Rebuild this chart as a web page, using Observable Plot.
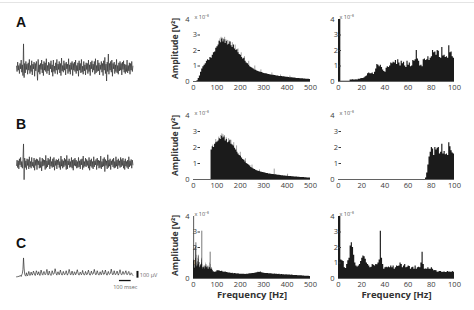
<!DOCTYPE html>
<html><head><meta charset="utf-8">
<script src="https://cdn.jsdelivr.net/npm/d3@7"></script>
<script src="https://cdn.jsdelivr.net/npm/@observablehq/plot@0.6"></script>
<style>
body{margin:0;background:#fff;}
#fig{position:relative;width:474px;height:310px;overflow:hidden;background:#fff;}
#fig .topline{position:absolute;left:0;top:2px;width:474px;height:1px;background:#e4e4e4;}
.panel-label{position:absolute;left:16px;font:bold 14px 'Liberation Sans',Arial,sans-serif;color:#111;line-height:14px;}
.plot{position:absolute;}
.plot svg{overflow:visible;background:transparent;}
</style></head><body>
<div id="fig"><div class="topline"></div></div>
<script>
// ---------- data ----------
const panelLetters = ["A", "B", "C"];
const sampleMs = 5;
const traceA = [20,-60,80,-40,30,-90,60,-20,110,-70,40,-120,350,-150,60,-80,90,-30,50,-100,
 70,-40,120,-90,30,-60,100,-110,50,-20,80,-130,60,-50,90,-40,-190,120,-70,40,
 -100,60,-30,110,-80,50,-120,90,-40,70,-60,130,-90,30,-50,80,-110,60,-20,100,
 -70,40,-130,110,-60,20,-90,70,-40,120,-100,50,-30,90,-80,60,-120,140,-50,30,
 -70,100,-40,60,-110,80,-20,50,-90,130,-60,40,-100,70,-30,90,-120,60,-40,80,
 -60,110,-90,30,-50,70,-130,100,-40,60,-80,120,-70,20,-100,90,-50,40,-110,70,
 -30,60,-90,110,-60,40,-120,80,-20,100,-70,50,-40,90,-100,130,-80,30,-60,110,
 -50,70,-110,40,-30,90,-70,60,-120,100,-40,150,-90,50,-200,80,-60,200,-100,60,
 -40,90,-70,110,-130,60,-20,80,-90,40,-60,120,-80,30,-100,70,-50,90,-40,60,
 -110,80,-30,100,-70,50,-90,40,-60,110,-80,30,-50,70,-100,60,-40,90,-60,20];
const traceB = [-30,50,-60,40,-80,70,-20,90,-50,30,-70,60,290,-240,80,-60,40,-90,70,-30,
 60,-80,100,-50,30,-70,90,-40,20,-60,80,-100,50,-30,70,-90,60,-20,40,-70,
 90,-60,30,-110,80,-40,60,-30,50,-90,120,-70,40,-50,80,-20,60,-80,100,-40,
 30,-60,70,-50,90,-100,40,-30,60,-80,50,-20,70,-60,30,-90,110,-40,60,-70,
 40,-50,80,-30,60,-90,120,-80,40,-20,70,-60,30,-50,90,-70,50,-100,60,-30,
 80,-40,50,-70,30,-60,90,-50,40,-80,60,-20,70,-90,110,-60,30,-40,80,-50,
 60,-30,40,-70,90,-100,50,-40,70,-60,30,-80,100,-50,40,-20,60,-90,80,-30,
 50,-70,40,-60,110,-80,30,-50,70,-40,90,-120,60,-30,40,-80,130,-60,50,-40,
 70,-90,40,-20,60,-50,80,-70,30,-60,100,-40,50,-80,70,-30,40,-60,90,-50,
 60,-30,80,-70,40,-90,70,-40,30,-60,50,-80,100,-50,40,-30,60,-70,50,-20];
const traceC = [10,15,8,20,12,25,18,30,15,40,60,120,290,140,50,30,20,70,40,25,
 50,90,60,30,45,80,55,35,60,95,70,40,30,65,100,75,40,55,85,50,
 30,60,110,80,45,35,70,90,60,40,50,85,120,70,35,55,95,65,40,30,
 60,100,70,45,55,80,130,90,50,35,65,85,55,40,70,110,75,45,35,60,
 90,65,40,50,75,100,60,35,55,80,120,85,45,40,65,95,60,35,50,85,
 70,40,55,90,115,75,45,35,60,80,55,40,65,105,70,45,35,55,90,65,
 40,50,80,110,70,40,35,60,95,65,45,55,85,120,80,45,40,65,100,70,
 45,35,60,85,55,40,70,105,75,45,50,80,110,70,40,35,65,90,60,45,
 55,85,125,80,45,40,70,100,65,40,50,75,95,60,35,55,85,115,75,45,
 40,60,90,65,45,55,80,100,60,40,50,75,90,55,35,45,70,60,40,30];
const scaleBarMs = 100;
const scaleBarUv = 100;
const scaleBarLabels = ["100 msec", "100 \u03bcV"];

const fullTicks = [0, 100, 200, 300, 400, 500];
const zoomTicks = [0, 20, 40, 60, 80, 100];
const ampTicksOuter = [0, 4];
const ampTicksInner = [1, 2, 3];
const ampExponent = "x 10\u207b\u2078";
const yTitle = "Amplitude [V\u00b2]";
const xTitle = "Frequency [Hz]";

// full-range spectra (0-500 Hz, 5 Hz bins), amplitude in 1e-8 V^2
const fullStep = 5;
const aFullStart = 0;
const aFull = [0,0,0,0.05,0.2,0.35,0.6,0.8,0.95,1.05,
 1.15,1.3,1.4,1.35,1.55,1.5,1.7,1.85,1.9,2.15,
 2.25,2.35,2.6,2.5,2.75,2.55,2.7,2.45,2.6,2.35,
 2.4,2.55,2.3,2.2,2.35,2.1,2.0,2.05,1.85,1.75,
 1.7,1.55,1.45,1.5,1.3,1.2,1.15,1.05,0.95,0.9,
 0.85,0.8,0.75,0.72,0.68,0.65,0.62,0.6,0.58,0.55,
 0.52,0.5,0.5,0.46,0.45,0.43,0.42,0.4,0.4,0.38,
 0.37,0.36,0.35,0.33,0.33,0.32,0.3,0.3,0.29,0.28,
 0.27,0.26,0.25,0.25,0.24,0.23,0.22,0.21,0.2,0.2,
 0.19,0.18,0.18,0.17,0.16,0.16,0.15,0.14,0.14,0.13];
const bFullStart = 75;
const bFull = [1.85,2.05,2.0,2.2,2.3,2.35,2.4,2.55,2.5,2.7,
 2.6,2.65,2.4,2.5,2.3,2.35,2.45,2.2,2.15,2.1,
 1.95,1.85,1.7,1.6,1.5,1.45,1.35,1.25,1.2,1.1,
 1.0,0.95,0.9,0.85,0.75,0.7,0.65,0.62,0.58,0.55,
 0.52,0.5,0.47,0.45,0.43,0.42,0.4,0.38,0.37,0.35,
 0.34,0.33,0.32,0.31,0.3,0.29,0.28,0.27,0.26,0.25,
 0.24,0.23,0.22,0.22,0.21,0.2,0.19,0.19,0.18,0.17,
 0.17,0.16,0.15,0.15,0.14,0.14,0.13,0.13,0.12,0.12,
 0.11,0.11,0.1,0.1,0.1];
const cFullHighStart = 100;
const cFullHigh = [0.5,0.5,0.48,0.45,0.47,0.42,0.4,0.42,0.38,0.37,
 0.36,0.35,0.33,0.34,0.3,0.32,0.3,0.29,0.3,0.28,
 0.28,0.27,0.28,0.27,0.26,0.28,0.27,0.29,0.3,0.31,
 0.32,0.33,0.34,0.36,0.37,0.4,0.38,0.42,0.37,0.36,
 0.34,0.33,0.32,0.33,0.31,0.3,0.3,0.29,0.28,0.29,
 0.27,0.27,0.26,0.27,0.25,0.26,0.25,0.24,0.23,0.24,
 0.23,0.22,0.22,0.21,0.22,0.2,0.2,0.19,0.19,0.18,
 0.18,0.17,0.17,0.16,0.16,0.15,0.15,0.14,0.14,0.13];

// peak lines on the full-range spectra
const aFullPeakF = [108,113,118,123,127,133,138,146,152,158,166,178,190,204,218,236,262,288,335,372,412];
const aFullPeakV = [2.6,2.75,2.85,2.8,2.75,2.85,2.7,2.65,2.6,2.55,2.5,2.35,2.1,1.85,1.6,1.3,1.0,0.75,0.55,0.42,0.35];
const bFullPeakF = [82,95,108,116,121,126,132,140,150,160,172,184,200,222,250,282,345,402];
const bFullPeakV = [2.15,2.5,2.65,2.75,2.85,2.8,2.75,2.6,2.55,2.45,2.3,2.1,1.7,1.3,0.9,0.6,0.65,0.33];
const cFullPeakF = [1,11,21,36,72];
const cFullPeakV = [4.0,2.3,1.5,3.05,1.7];

// zoomed spectra (0-100 Hz, 1 Hz bins)
const zoomStep = 1;
const aZoom = [4.0,4.0,0.02,0.02,0.02,0.02,0.02,0.02,0.02,0.02,
 0.1,0.1,0.12,0.1,0.1,0.12,0.1,0.15,0.15,0.18,
 0.2,0.2,0.25,0.3,0.35,0.5,0.55,0.5,0.5,0.55,
 0.45,0.6,0.8,1.1,1.05,0.95,1.05,0.9,0.75,0.65,
 0.6,0.85,0.95,0.9,1.0,1.2,1.15,1.25,1.2,1.35,
 1.1,1.4,1.2,1.0,1.3,1.15,1.25,1.0,0.9,1.3,
 1.05,1.2,0.95,1.0,1.35,1.3,1.4,2.0,1.45,1.3,
 1.0,1.05,0.95,1.4,1.45,1.35,1.4,1.6,1.35,1.5,
 1.6,2.0,1.85,1.9,1.7,2.0,1.95,1.55,1.5,2.2,
 1.65,1.7,1.55,1.6,1.5,2.3,1.85,1.9,1.6,1.5];
const bZoomStart = 75;
const bZoom = [0.1,0.4,0.9,1.4,1.7,2.0,1.9,1.5,2.0,1.85,1.95,2.0,1.6,1.7,2.2,1.6,1.75,1.55,1.6,1.5,2.3,2.05,1.8,1.65,1.6];
const cZoom = [4.0,4.0,1.2,1.15,1.1,0.7,0.65,0.9,1.15,1.3,
 2.1,2.3,2.0,1.5,1.0,0.8,0.75,0.8,0.9,1.1,
 1.3,1.45,1.4,1.25,1.0,0.9,0.8,0.7,0.72,0.9,
 0.85,0.8,0.9,0.88,1.0,1.2,3.05,1.3,0.9,0.6,
 0.7,0.72,0.7,0.75,0.7,0.8,0.7,0.8,0.6,0.7,
 0.8,0.78,0.8,1.0,0.9,0.7,0.8,0.9,0.7,0.72,
 0.8,0.78,0.6,0.7,0.72,0.6,0.8,0.6,0.7,0.72,
 0.7,1.0,1.7,0.9,0.6,0.62,0.6,0.7,0.6,0.6,
 0.7,0.6,0.5,0.52,0.5,0.4,0.42,0.45,0.45,0.38,
 0.4,0.42,0.38,0.4,0.45,0.4,0.42,0.38,0.45,0.4];

// ---------- helpers ----------
const fig = document.getElementById("fig");
const FONT = "'Open Sans', 'Liberation Sans', sans-serif";

function points(start, step, values) {
  return values.map((v, i) => ({f: start + i * step, v}));
}
function steps(start, step, values) {
  const pts = points(start, step, values);
  pts.push({f: start + values.length * step, v: values[values.length - 1]});
  return pts;
}
function peaks(F, V) { return F.map((f, i) => ({f, v: V[i]})); }

function place(svg, left, top, width) {
  const d = document.createElement("div");
  d.className = "plot";
  d.style.left = left + "px";
  d.style.top = top + "px";
  d.style.width = width + "px";
  d.appendChild(svg);
  fig.appendChild(d);
}

function spectrum(o) {
  const marks = [
    o.peaks ? Plot.ruleX(o.peaks, {x: "f", y1: 0, y2: "v", stroke: "#7a7a7a", strokeWidth: 0.7}) : null,
    Plot.areaY(o.data, {x: "f", y: "v", curve: "step-after", fill: "#1b1b1b"}),
    Plot.ruleY([0], {stroke: "#3a3a3a", strokeWidth: 0.8}),
    Plot.axisX(o.ticks, {tickSize: 0, tickPadding: 3, label: null}),
    Plot.axisY(ampTicksOuter, {tickSize: 0, tickPadding: 4, label: null}),
    Plot.axisY(ampTicksInner, {tickSize: 2.5, tickPadding: 1, dx: o.innerDx, label: null}),
    Plot.text([ampExponent], {text: d => d, frameAnchor: "top-left", dy: -4, dx: 1, textAnchor: "start", fontSize: 5.5, fill: "#555"}),
    o.yTitle ? Plot.text([yTitle], {text: d => d, frameAnchor: "left", textAnchor: "middle", dx: -18, dy: -2, rotate: -90, fontSize: 8.5, fontWeight: "bold", fill: "#333"}) : null,
    o.xTitle ? Plot.text([xTitle], {text: d => d, frameAnchor: "bottom", textAnchor: "middle", dy: 19, fontSize: 9.5, fontWeight: "bold", fill: "#333"}) : null
  ].filter(Boolean);
  const svg = Plot.plot({
    width: o.width, height: o.height,
    marginLeft: o.marginLeft, marginRight: o.marginRight,
    marginTop: o.marginTop, marginBottom: o.marginBottom,
    x: {domain: [0, o.xMax], label: null},
    y: {domain: [0, 4], label: null},
    style: {fontFamily: FONT, fontSize: "7.5px", color: "#3a3a3a", background: "transparent", overflow: "visible"},
    marks
  });
  place(svg, o.left, o.top, o.width);
}

function trace(values, top, extras) {
  const svg = Plot.plot({
    width: 160, height: 54,
    marginLeft: 16, marginRight: 27, marginTop: 0, marginBottom: 0,
    x: {domain: [0, 1000], axis: null},
    y: {domain: [-400, 400], axis: null},
    style: {fontFamily: FONT, background: "transparent", overflow: "visible"},
    marks: [
      Plot.lineY(values, {x: (d, i) => i * sampleMs, y: d => d, stroke: "#2e2e2e", strokeWidth: 0.7}),
      ...(extras || [])
    ]
  });
  place(svg, 0, top, 160);
}

// ---------- panel letters ----------
[15, 117, 236].forEach((t, i) => {
  const d = document.createElement("div");
  d.className = "panel-label";
  d.style.top = t + "px";
  d.textContent = panelLetters[i];
  fig.appendChild(d);
});

// ---------- traces ----------
trace(traceA, 40);
trace(traceB, 136);
const barStart = 880, barY = -45, barX = 1034, barY0 = -10;
trace(traceC, 250, [
  Plot.ruleY([barY], {x1: barStart, x2: barStart + scaleBarMs, stroke: "#111", strokeWidth: 1.3}),
  Plot.ruleX([barX], {y1: barY0, y2: barY0 + scaleBarUv, stroke: "#111", strokeWidth: 2}),
  Plot.text([scaleBarLabels[0]], {text: d => d, x: barStart + scaleBarMs / 2, y: -140, fontSize: 5.5, fill: "#666"}),
  Plot.text([scaleBarLabels[1]], {text: d => d, x: barX + 20, y: 40, textAnchor: "start", fontSize: 5.5, fill: "#666"})
]);

// ---------- spectra ----------
const midCommon = {left: 160, width: 158, marginLeft: 33, marginRight: 8, marginTop: 11, xMax: 500, ticks: fullTicks, innerDx: 7, yTitle: true};
const rightCommon = {left: 318, width: 150, marginLeft: 20, marginRight: 14, marginTop: 11, xMax: 100, ticks: zoomTicks, innerDx: 3};

spectrum({...midCommon, top: 8, height: 88, marginBottom: 15,
  data: steps(aFullStart, fullStep, aFull), peaks: peaks(aFullPeakF, aFullPeakV)});
spectrum({...midCommon, top: 104, height: 90, marginBottom: 15,
  data: steps(bFullStart, fullStep, bFull), peaks: peaks(bFullPeakF, bFullPeakV)});
spectrum({...midCommon, top: 205, height: 103, marginBottom: 30, xTitle: true,
  data: points(0, zoomStep, cZoom).concat(steps(cFullHighStart, fullStep, cFullHigh)), peaks: peaks(cFullPeakF, cFullPeakV)});

spectrum({...rightCommon, top: 8, height: 88, marginBottom: 15, data: steps(0, zoomStep, aZoom)});
spectrum({...rightCommon, top: 104, height: 90, marginBottom: 15, data: steps(bZoomStart, zoomStep, bZoom)});
spectrum({...rightCommon, top: 205, height: 103, marginBottom: 30, xTitle: true, data: steps(0, zoomStep, cZoom)});
</script>
</body></html>
